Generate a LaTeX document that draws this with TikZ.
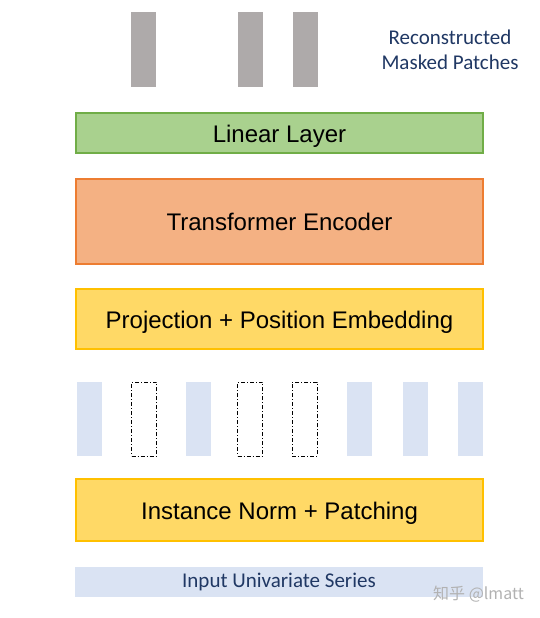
\documentclass[tikz,border=0pt]{standalone}
\usepackage{fontspec}
\setmainfont{Liberation Sans}
\newfontfamily\calibri{Carlito}
\newfontfamily\cjkfont{Noto Sans CJK SC}
\usetikzlibrary{positioning}

\definecolor{linfill}{HTML}{A9D18E}
\definecolor{lindraw}{HTML}{70AD47}
\definecolor{encfill}{HTML}{F4B183}
\definecolor{encdraw}{HTML}{ED7D31}
\definecolor{projfill}{HTML}{FFD966}
\definecolor{projdraw}{HTML}{FFC000}
\definecolor{seriesfill}{HTML}{DAE3F3}
\definecolor{recongray}{HTML}{AEAAAA}
\definecolor{labelblue}{HTML}{203864}

\tikzset{
	layerbox/.style={draw, line width=2pt, minimum width=407pt, inner sep=0pt,
		text height=20pt, text depth=2pt, font=\fontsize{24}{28}\selectfont},
	patchbox/.style={minimum width=25pt, minimum height=74pt, inner sep=0pt},
	plainpatch/.style={patchbox, fill=seriesfill},
	maskpatch/.style={patchbox, draw=black, line width=0.9pt,
		dash pattern=on 4pt off 2pt on 1pt off 2pt},
	bluetext/.style={text=labelblue, font=\calibri\fontsize{21}{25}\selectfont},
}

\begin{document}
\begin{tikzpicture}[x=1pt,y=-1pt]
	\useasboundingbox[fill=white] (0,0) rectangle (540,618);

	% reconstructed patches
	\node[patchbox, fill=recongray, minimum height=75pt] (recon1) at (143.5,49.5) {};
	\node[patchbox, fill=recongray, minimum height=75pt] (recon2) at (250.5,49.5) {};
	\node[patchbox, fill=recongray, minimum height=75pt] (recon3) at (305.5,49.5) {};
	\node[bluetext, align=center] (reconlabel) at (450,49.5) {Reconstructed\\Masked Patches};

	% layers
	\node[layerbox, fill=linfill, draw=lindraw, minimum height=40pt] (linear) at (279.5,133) {Linear Layer};
	\node[layerbox, fill=encfill, draw=encdraw, minimum height=85pt] (encoder) at (279.5,221.5) {Transformer Encoder};
	\node[layerbox, fill=projfill, draw=projdraw, minimum height=60pt] (proj) at (279.5,319) {Projection + Position Embedding};

	% patches, some masked
	\foreach \px/\kind [count=\i] in {89.5/plainpatch, 144/maskpatch, 198.5/plainpatch, 250/maskpatch,
			304.5/maskpatch, 359.5/plainpatch, 415.5/plainpatch, 470.5/plainpatch}
		\node[\kind] (patch\i) at (\px,419) {};

	\node[layerbox, fill=projfill, draw=projdraw, minimum height=62pt] (norm) at (279.5,510) {Instance Norm + Patching};
	\node[bluetext, fill=seriesfill, minimum width=408pt, minimum height=30pt, inner sep=0pt] (series) at (279,582) {\raisebox{-1pt}{Input Univariate Series}};

	% watermark
	\node[text=black!30, font=\cjkfont\fontsize{16}{18}\selectfont] (mark) at (478.5,594) {知乎 @lmatt};
\end{tikzpicture}
\end{document}
